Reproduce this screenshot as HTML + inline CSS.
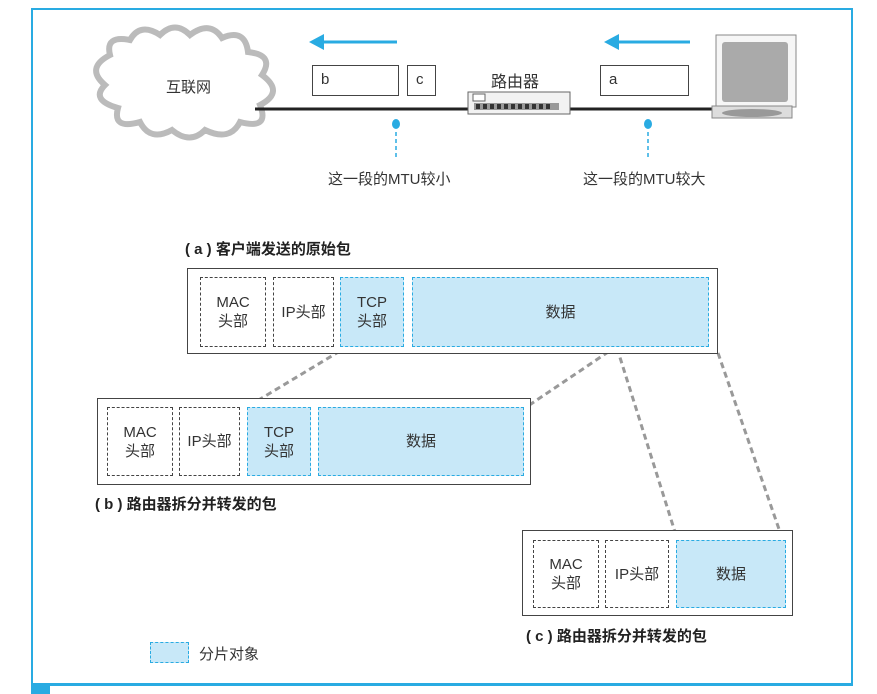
<!DOCTYPE html>
<html><head><meta charset="utf-8"><style>
body{margin:0;width:877px;height:694px;background:#fff;position:relative;overflow:hidden;font-family:"Liberation Sans","Noto Sans CJK SC",sans-serif;color:#333}
.a{position:absolute;box-sizing:border-box}
.pk{border:1.5px solid #444;background:#fff}
.h{border:1.5px dashed #444;display:flex;align-items:center;justify-content:center;text-align:center;font-size:15px;line-height:19px}
.d{border:1.5px dashed #29abe2;background:#c8e8f8;display:flex;align-items:center;justify-content:center;text-align:center;font-size:15px;line-height:19px}
.t{position:absolute;font-size:15px;white-space:nowrap}
.lb{position:absolute;font-size:15px;font-weight:bold;white-space:nowrap;color:#222}
.sm{border:1.2px solid #444;background:#fff;font-size:15px;padding-left:8px;line-height:28px}
</style></head><body>
<div class="a" style="left:31px;top:8px;width:822px;height:678px;border:2px solid #29abe2;border-bottom:3px solid #29abe2"></div>
<div class="a" style="left:31px;top:684px;width:19px;height:10px;background:#29abe2"></div>
<svg class="a" style="left:0;top:0" width="877" height="694">
<path d="M110,55 Q105,35 130,40 Q140,22 160,35 Q175,20 190,35 Q210,20 222,38 Q245,28 248,52 Q275,55 262,75 Q285,92 260,105 Q270,130 240,122 Q230,142 205,130 Q190,145 172,130 Q150,142 140,122 Q112,130 118,108 Q90,100 105,85 Q85,68 110,55Z" fill="#fff" stroke="#bbb" stroke-width="6"/>
<line x1="255" y1="109" x2="720" y2="109" stroke="#222" stroke-width="3"/>
<line x1="316" y1="42" x2="397" y2="42" stroke="#29abe2" stroke-width="3"/>
<polygon points="309,42 324,34 324,50" fill="#29abe2"/>
<line x1="612" y1="42" x2="690" y2="42" stroke="#29abe2" stroke-width="3"/>
<polygon points="604,42 619,34 619,50" fill="#29abe2"/>
<rect x="468" y="92" width="102" height="22" fill="#f2f2f2" stroke="#666"/>
<rect x="473" y="94" width="12" height="7" fill="#fff" stroke="#666"/>
<rect x="474" y="103" width="85" height="7" fill="#999"/>
<g fill="#333"><rect x="476" y="104" width="4" height="5"/><rect x="483" y="104" width="4" height="5"/><rect x="490" y="104" width="4" height="5"/><rect x="497" y="104" width="4" height="5"/><rect x="504" y="104" width="4" height="5"/><rect x="511" y="104" width="4" height="5"/><rect x="518" y="104" width="4" height="5"/><rect x="525" y="104" width="4" height="5"/><rect x="532" y="104" width="4" height="5"/><rect x="539" y="104" width="4" height="5"/><rect x="546" y="104" width="4" height="5"/></g>
<rect x="716" y="35" width="80" height="72" fill="#f6f6f6" stroke="#888"/>
<rect x="722" y="42" width="66" height="60" rx="3" fill="#aaa"/>
<rect x="712" y="106" width="80" height="12" fill="#ddd" stroke="#888"/>
<ellipse cx="752" cy="113" rx="30" ry="4" fill="#999"/>
<ellipse cx="396" cy="124" rx="4" ry="5" fill="#29abe2"/>
<ellipse cx="648" cy="124" rx="4" ry="5" fill="#29abe2"/>
<line x1="396" y1="132" x2="396" y2="160" stroke="#29abe2" stroke-width="1.5" stroke-dasharray="4,3"/>
<line x1="648" y1="132" x2="648" y2="160" stroke="#29abe2" stroke-width="1.5" stroke-dasharray="4,3"/>
<g stroke="#999" stroke-width="3" stroke-dasharray="6,4" fill="none">
<line x1="340" y1="351" x2="247" y2="407"/>
<line x1="617" y1="346" x2="525" y2="408"/>
<line x1="617" y1="348" x2="675" y2="532"/>
<line x1="718" y1="353" x2="780" y2="532"/>
</g>
</svg>
<div class="t" style="left:166px;top:76px">互联网</div>
<div class="a sm" style="left:312px;top:65px;width:87px;height:31px">b</div>
<div class="a sm" style="left:407px;top:65px;width:29px;height:31px">c</div>
<div class="a sm" style="left:600px;top:65px;width:89px;height:31px">a</div>
<div class="t" style="left:491px;top:68px;font-size:16px">路由器</div>
<div class="t" style="left:328px;top:168px">这一段的MTU较小</div>
<div class="t" style="left:583px;top:168px">这一段的MTU较大</div>

<div class="lb" style="left:185px;top:238px">( a ) 客户端发送的原始包</div>
<div class="a pk" style="left:187px;top:268px;width:531px;height:86px"></div>
<div class="a h" style="left:200px;top:277px;width:66px;height:70px">MAC<br>头部</div>
<div class="a h" style="left:273px;top:277px;width:61px;height:70px">IP头部</div>
<div class="a d" style="left:340px;top:277px;width:64px;height:70px">TCP<br>头部</div>
<div class="a d" style="left:412px;top:277px;width:297px;height:70px">数据</div>

<div class="a pk" style="left:97px;top:398px;width:434px;height:87px"></div>
<div class="a h" style="left:107px;top:407px;width:66px;height:69px">MAC<br>头部</div>
<div class="a h" style="left:179px;top:407px;width:61px;height:69px">IP头部</div>
<div class="a d" style="left:247px;top:407px;width:64px;height:69px">TCP<br>头部</div>
<div class="a d" style="left:318px;top:407px;width:206px;height:69px">数据</div>
<div class="lb" style="left:95px;top:493px">( b ) 路由器拆分并转发的包</div>

<div class="a pk" style="left:522px;top:530px;width:271px;height:86px"></div>
<div class="a h" style="left:533px;top:540px;width:66px;height:68px">MAC<br>头部</div>
<div class="a h" style="left:605px;top:540px;width:64px;height:68px">IP头部</div>
<div class="a d" style="left:676px;top:540px;width:110px;height:68px">数据</div>
<div class="lb" style="left:526px;top:625px">( c ) 路由器拆分并转发的包</div>

<div class="a d" style="left:150px;top:642px;width:39px;height:21px"></div>
<div class="t" style="left:199px;top:643px">分片对象</div>
</body></html>
